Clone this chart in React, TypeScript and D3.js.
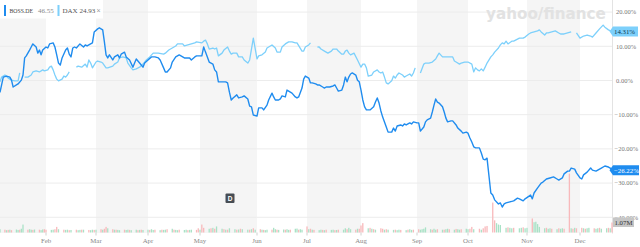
import React, { useEffect } from "react";
import * as d3 from "d3";

type Pt = [string, number | null];

// % change since start
const bossSeries: Pt[] = [
  ["2019-01-04", -3.5], ["2019-01-06", 1.0], ["2019-01-08", 1.3], ["2019-01-10", 1.0], ["2019-01-11", 0.1],
  ["2019-01-12", -1.9], ["2019-01-14", -1.3], ["2019-01-15", -1.0], ["2019-01-17", 0.1], ["2019-01-18", 1.6],
  ["2019-01-19", 6.6], ["2019-01-20", 7.2], ["2019-01-22", 8.9], ["2019-01-23", 9.8], ["2019-01-24", 10.7],
  ["2019-01-26", 9.8], ["2019-01-27", 8.0], ["2019-01-28", 8.9], ["2019-01-29", 7.5], ["2019-01-30", 8.9],
  ["2019-02-01", 9.8], ["2019-02-02", 9.5], ["2019-02-03", 10.7], ["2019-02-05", 11.0], ["2019-02-06", 9.8],
  ["2019-02-07", 7.5], ["2019-02-08", 5.1], ["2019-02-09", 4.5], ["2019-02-10", 6.6], ["2019-02-12", 8.9],
  ["2019-02-13", 9.5], ["2019-02-14", 7.7], ["2019-02-15", 6.9], ["2019-02-16", 9.5], ["2019-02-17", 9.8],
  ["2019-02-18", 9.5], ["2019-02-20", 10.7], ["2019-02-22", 9.8], ["2019-02-23", 10.4], ["2019-02-24", 10.1],
  ["2019-02-26", 10.7], ["2019-02-27", 11.0], ["2019-02-28", 14.2], ["2019-03-02", 15.1], ["2019-03-03", 15.4],
  ["2019-03-05", 14.8], ["2019-03-06", 11.3], ["2019-03-07", 7.5], ["2019-03-08", 6.6], ["2019-03-09", 7.5],
  ["2019-03-11", 6.0], ["2019-03-12", 6.9], ["2019-03-14", 7.5], ["2019-03-15", 6.6], ["2019-03-16", 7.7],
  ["2019-03-18", 8.3], ["2019-03-19", 6.9], ["2019-03-21", 6.0], ["2019-03-23", 3.9], ["2019-03-24", 5.1],
  ["2019-03-25", 6.3], ["2019-03-27", 5.1], ["2019-03-29", 3.9], ["2019-03-30", 5.1], ["2019-04-01", 6.0],
  ["2019-04-03", 6.9], ["2019-04-05", 6.9], ["2019-04-07", 6.6], ["2019-04-08", 6.0], ["2019-04-10", 3.7],
  ["2019-04-11", 2.5], ["2019-04-12", 2.5], ["2019-04-14", 3.7], ["2019-04-15", 5.4], ["2019-04-17", 6.9],
  ["2019-04-19", 7.5], ["2019-04-21", 6.9], ["2019-04-22", 6.6], ["2019-04-23", 6.6], ["2019-04-25", 6.6],
  ["2019-04-26", 6.0], ["2019-04-28", 6.9], ["2019-04-29", 7.2], ["2019-05-01", 7.2], ["2019-05-02", 7.2],
  ["2019-05-03", 9.8], ["2019-05-04", 8.3], ["2019-05-05", 6.9], ["2019-05-06", 5.4], ["2019-05-08", 4.8],
  ["2019-05-09", 3.1], ["2019-05-10", 2.5], ["2019-05-11", -0.4], ["2019-05-13", -0.4], ["2019-05-15", -0.4],
  ["2019-05-16", -0.7], ["2019-05-17", -3.4], ["2019-05-18", -5.7], ["2019-05-19", -5.1], ["2019-05-21", -4.2],
  ["2019-05-22", -5.1], ["2019-05-24", -4.8], ["2019-05-25", -4.5], ["2019-05-27", -5.4], ["2019-05-28", -7.5],
  ["2019-05-29", -7.7], ["2019-05-30", -10.1], ["2019-06-01", -10.4], ["2019-06-02", -8.0], ["2019-06-04", -8.0],
  ["2019-06-05", -8.6], ["2019-06-07", -7.2], ["2019-06-08", -5.7], ["2019-06-10", -3.7], ["2019-06-11", -4.8],
  ["2019-06-12", -5.7], ["2019-06-14", -5.7], ["2019-06-15", -5.4], ["2019-06-16", -4.5], ["2019-06-18", -4.8],
  ["2019-06-19", -2.8], ["2019-06-21", -3.4], ["2019-06-22", -3.7], ["2019-06-24", -4.8], ["2019-06-25", -5.1],
  ["2019-06-26", -4.8], ["2019-06-28", -2.2], ["2019-06-29", 0.4], ["2019-06-30", 1.3], ["2019-07-02", 0.7],
  ["2019-07-03", -0.7], ["2019-07-04", -0.7], ["2019-07-06", -1.0], ["2019-07-07", -1.3], ["2019-07-08", -1.3],
  ["2019-07-10", -1.9], ["2019-07-11", -2.2], ["2019-07-12", -1.9], ["2019-07-14", -1.9], ["2019-07-16", -1.6],
  ["2019-07-17", -1.3], ["2019-07-18", -2.2], ["2019-07-19", -3.1], ["2019-07-21", -2.8], ["2019-07-22", -1.3],
  ["2019-07-23", 1.0], ["2019-07-24", -0.4], ["2019-07-25", 1.0], ["2019-07-26", 1.9], ["2019-07-27", 2.2],
  ["2019-07-29", 1.6], ["2019-07-30", 0.1], ["2019-07-31", -0.4], ["2019-08-01", -2.8], ["2019-08-02", -5.7],
  ["2019-08-03", -7.7], ["2019-08-04", -8.6], ["2019-08-06", -8.6], ["2019-08-08", -7.7], ["2019-08-09", -6.3],
  ["2019-08-10", -5.1], ["2019-08-11", -6.6], ["2019-08-12", -8.9], ["2019-08-13", -10.7], ["2019-08-15", -13.6],
  ["2019-08-16", -15.1], ["2019-08-18", -15.1], ["2019-08-19", -13.9], ["2019-08-20", -14.8], ["2019-08-21", -13.3],
  ["2019-08-23", -13.0], ["2019-08-24", -13.3], ["2019-08-25", -12.7], ["2019-08-26", -13.0], ["2019-08-28", -12.4],
  ["2019-08-29", -12.7], ["2019-08-30", -12.1], ["2019-09-01", -12.4], ["2019-09-02", -12.4], ["2019-09-03", -14.8],
  ["2019-09-05", -13.6], ["2019-09-06", -12.1], ["2019-09-07", -11.5], ["2019-09-09", -11.0], ["2019-09-10", -9.2],
  ["2019-09-11", -7.2], ["2019-09-12", -5.4], ["2019-09-13", -6.3], ["2019-09-14", -6.6], ["2019-09-16", -7.7],
  ["2019-09-17", -9.2], ["2019-09-18", -11.0], ["2019-09-19", -12.1], ["2019-09-21", -11.8], ["2019-09-22", -11.8],
  ["2019-09-24", -13.0], ["2019-09-25", -13.9], ["2019-09-27", -14.8], ["2019-09-28", -15.4], ["2019-09-30", -15.1],
  ["2019-10-01", -15.4], ["2019-10-02", -16.8], ["2019-10-03", -18.0], ["2019-10-04", -19.4], ["2019-10-05", -19.7],
  ["2019-10-06", -19.7], ["2019-10-07", -19.7], ["2019-10-08", -21.2], ["2019-10-09", -23.0], ["2019-10-10", -23.2],
  ["2019-10-11", -22.7], ["2019-10-13", -32.9], ["2019-10-14", -33.5], ["2019-10-15", -34.9], ["2019-10-17", -36.1],
  ["2019-10-18", -35.8], ["2019-10-19", -37.0], ["2019-10-20", -36.1], ["2019-10-21", -35.8], ["2019-10-23", -35.5],
  ["2019-10-25", -35.2], ["2019-10-27", -34.4], ["2019-10-28", -34.6], ["2019-10-30", -35.2], ["2019-10-31", -34.6],
  ["2019-11-03", -33.5], ["2019-11-04", -34.6], ["2019-11-05", -32.9], ["2019-11-07", -31.4], ["2019-11-09", -30.0],
  ["2019-11-10", -29.7], ["2019-11-12", -28.8], ["2019-11-14", -28.5], ["2019-11-16", -28.2], ["2019-11-18", -28.8],
  ["2019-11-19", -29.1], ["2019-11-21", -28.5], ["2019-11-22", -27.3], ["2019-11-24", -26.5], ["2019-11-25", -26.5],
  ["2019-11-26", -25.6], ["2019-11-28", -25.9], ["2019-11-29", -27.0], ["2019-12-01", -28.5], ["2019-12-02", -28.8],
  ["2019-12-03", -27.6], ["2019-12-05", -26.8], ["2019-12-07", -25.6], ["2019-12-08", -26.2], ["2019-12-10", -26.5],
  ["2019-12-11", -26.2], ["2019-12-13", -25.6], ["2019-12-15", -25.0], ["2019-12-17", -25.3], ["2019-12-18", -25.6],
  ["2019-12-19", -26.22],
];

const daxSeries: Pt[] = [
  ["2019-01-04", -0.4], ["2019-01-05", 1.0], ["2019-01-07", 1.6], ["2019-01-09", 0.7], ["2019-01-11", 0.1],
  ["2019-01-13", -0.1], ["2019-01-15", -0.1], ["2019-01-16", 2.2], ["2019-01-17", null], ["2019-01-19", 1.0],
  ["2019-01-21", 1.0], ["2019-01-23", 1.6], ["2019-01-24", 2.5], ["2019-01-26", 2.8], ["2019-01-28", 2.5],
  ["2019-01-30", 3.1], ["2019-01-31", 2.8], ["2019-02-02", 3.1], ["2019-02-03", 3.9], ["2019-02-04", 4.2],
  ["2019-02-05", 3.1], ["2019-02-06", 1.6], ["2019-02-07", 0.4], ["2019-02-08", -0.1], ["2019-02-10", 0.4],
  ["2019-02-11", 1.3], ["2019-02-12", 1.0], ["2019-02-13", 1.6], ["2019-02-14", 2.5], ["2019-02-16", null],
  ["2019-02-18", 3.9], ["2019-02-19", 4.2], ["2019-02-21", 3.9], ["2019-02-23", 4.8], ["2019-02-24", 3.9],
  ["2019-02-25", 6.0], ["2019-02-26", 5.1], ["2019-02-27", 3.7], ["2019-03-01", 5.4], ["2019-03-02", 5.7],
  ["2019-03-04", 5.4], ["2019-03-05", 5.1], ["2019-03-07", 3.7], ["2019-03-08", 3.7], ["2019-03-11", 4.2],
  ["2019-03-12", 4.8], ["2019-03-14", 5.4], ["2019-03-15", 6.6], ["2019-03-17", 6.9], ["2019-03-19", 6.6],
  ["2019-03-20", 5.1], ["2019-03-22", 3.7], ["2019-03-23", 3.1], ["2019-03-25", 3.4], ["2019-03-27", 3.9],
  ["2019-03-29", 4.8], ["2019-03-31", 6.0], ["2019-04-02", 6.9], ["2019-04-04", 8.0], ["2019-04-06", 8.0],
  ["2019-04-07", 8.0], ["2019-04-10", 7.7], ["2019-04-11", 8.0], ["2019-04-13", 8.9], ["2019-04-15", 9.5],
  ["2019-04-17", 10.1], ["2019-04-18", 10.7], ["2019-04-21", 10.7], ["2019-04-22", 10.1], ["2019-04-24", 10.4],
  ["2019-04-26", 10.7], ["2019-04-28", 11.0], ["2019-04-29", 11.3], ["2019-05-02", 11.0], ["2019-05-03", 11.5],
  ["2019-05-04", 11.8], ["2019-05-05", 10.7], ["2019-05-06", 9.2], ["2019-05-08", 9.5], ["2019-05-09", 9.2],
  ["2019-05-10", 9.5], ["2019-05-11", 7.2], ["2019-05-13", 8.0], ["2019-05-14", 8.9], ["2019-05-16", 9.8],
  ["2019-05-17", 8.6], ["2019-05-18", 7.7], ["2019-05-19", 8.0], ["2019-05-21", 8.0], ["2019-05-22", 6.9],
  ["2019-05-24", 6.9], ["2019-05-25", 6.0], ["2019-05-27", 5.1], ["2019-05-28", 6.0], ["2019-05-30", 12.4],
  ["2019-06-01", 6.3], ["2019-06-02", 7.2], ["2019-06-04", 7.5], ["2019-06-06", 8.3], ["2019-06-07", 9.5],
  ["2019-06-10", 10.4], ["2019-06-12", 9.5], ["2019-06-13", 8.3], ["2019-06-15", 8.3], ["2019-06-16", 9.8],
  ["2019-06-18", 10.7], ["2019-06-20", 11.3], ["2019-06-22", 11.3], ["2019-06-24", 11.0], ["2019-06-25", 11.0],
  ["2019-06-28", 8.6], ["2019-06-29", 8.6], ["2019-06-30", 9.8], ["2019-07-02", 10.4], ["2019-07-03", 11.0],
  ["2019-07-05", null], ["2019-07-07", 9.8], ["2019-07-08", 9.8], ["2019-07-09", 9.2], ["2019-07-11", 8.6],
  ["2019-07-13", 8.0], ["2019-07-15", 8.6], ["2019-07-16", 9.2], ["2019-07-18", 9.2], ["2019-07-19", 8.6],
  ["2019-07-21", 7.7], ["2019-07-22", 7.7], ["2019-07-23", 8.6], ["2019-07-24", 8.9], ["2019-07-25", 8.0],
  ["2019-07-26", 7.5], ["2019-07-28", 8.0], ["2019-07-30", 6.0], ["2019-08-01", 3.9], ["2019-08-02", 4.8],
  ["2019-08-03", 4.8], ["2019-08-04", 3.7], ["2019-08-05", 1.3], ["2019-08-07", 1.6], ["2019-08-08", 2.5],
  ["2019-08-10", 3.1], ["2019-08-11", 2.5], ["2019-08-12", 2.2], ["2019-08-13", 2.5], ["2019-08-14", 1.0],
  ["2019-08-15", -0.7], ["2019-08-16", -1.0], ["2019-08-18", -0.1], ["2019-08-19", 1.3], ["2019-08-20", 0.7],
  ["2019-08-21", 1.6], ["2019-08-22", 2.2], ["2019-08-24", 1.6], ["2019-08-25", 1.0], ["2019-08-26", 1.3],
  ["2019-08-28", 1.9], ["2019-08-29", 1.3], ["2019-08-30", 2.2], ["2019-08-31", 3.7], ["2019-09-02", null],
  ["2019-09-03", 2.2], ["2019-09-05", 4.8], ["2019-09-06", 5.1], ["2019-09-08", 5.1], ["2019-09-10", 5.4],
  ["2019-09-12", 6.3], ["2019-09-13", 7.2], ["2019-09-14", 8.0], ["2019-09-16", 6.9], ["2019-09-18", 6.9],
  ["2019-09-20", 6.9], ["2019-09-22", 6.9], ["2019-09-23", 5.7], ["2019-09-24", 5.4], ["2019-09-26", 4.8],
  ["2019-09-27", 5.1], ["2019-09-29", 5.4], ["2019-09-30", 5.4], ["2019-10-01", 5.4], ["2019-10-03", 4.8],
  ["2019-10-04", 2.5], ["2019-10-05", 3.7], ["2019-10-06", 3.1], ["2019-10-07", 2.8], ["2019-10-08", 3.4],
  ["2019-10-09", 2.8], ["2019-10-10", 3.9], ["2019-10-11", 5.1], ["2019-10-13", 6.9], ["2019-10-14", 7.5],
  ["2019-10-15", 8.3], ["2019-10-17", 9.5], ["2019-10-18", 10.4], ["2019-10-19", 11.0], ["2019-10-20", 10.7],
  ["2019-10-21", 11.5], ["2019-10-22", 10.7], ["2019-10-24", 11.5], ["2019-10-25", 11.5], ["2019-10-27", 12.1],
  ["2019-10-28", 12.4], ["2019-10-30", 12.4], ["2019-10-31", 12.7], ["2019-11-02", 13.6], ["2019-11-03", 13.9],
  ["2019-11-05", 14.2], ["2019-11-07", 14.5], ["2019-11-08", 14.8], ["2019-11-09", 14.2], ["2019-11-11", 13.3],
  ["2019-11-12", 13.9], ["2019-11-13", 13.9], ["2019-11-15", 14.2], ["2019-11-17", 14.5], ["2019-11-19", 13.9],
  ["2019-11-20", 13.6], ["2019-11-22", 13.6], ["2019-11-24", 13.9], ["2019-11-26", 14.2], ["2019-11-27", null],
  ["2019-11-29", 13.9], ["2019-12-01", 12.4], ["2019-12-03", 13.0], ["2019-12-05", 13.3], ["2019-12-07", 13.0],
  ["2019-12-08", 12.7], ["2019-12-10", 13.9], ["2019-12-12", 15.1], ["2019-12-14", 16.2], ["2019-12-15", 15.6],
  ["2019-12-17", 14.8], ["2019-12-19", 14.31],
];

// daily volume in millions, one per weekday; negative = down day (red)
const volumeM: number[] = [
  0.35, -0.3, 0.25, -0.28, 0.3, -0.25, 0.32, 0.27, -0.3, 0.4, 0.85, -0.3, 0.35, 0.3, -0.28, 0.32, -0.3, 0.25, 0.33, -0.35,
  -0.3, 0.28, 0.3, -0.35, -0.6, 0.35, -0.3, 0.28, 0.3, -0.25, 0.27, -0.3, 0.25, 0.28, -0.3, 0.3, -0.27, 0.25, 0.3, -0.28,
  0.3, -0.35, 0.3, -0.4, -0.6, 0.45, -0.35, 0.3, -0.3, 0.28, 0.25, -0.3, 0.27, 0.3, -0.28, 0.25, 0.3, -0.25, 0.28, -0.3, 0.27,
  0.3, -0.28, 0.35, 0.27, -0.3, 0.25, -0.3, 0.28, 0.3, -0.35, 0.4, -0.3, 0.28, 0.25, -0.3, 0.27, 0.3, -0.25, 0.28, 0.3, -0.28, -0.45,
  0.3, -0.85, -0.5, 0.4, -0.45, 0.5, -0.4, 0.65, 0.4, -0.35, 0.3, -0.3, 0.45, 0.35, -0.3, 0.32, -0.4, 0.35, 0.3, -0.3, 0.35, -0.45, 0.3,
  -0.35, 0.3, -0.28, 0.25, 0.3, -0.3, 0.5, 0.35, -0.3, 0.28, 0.32, -0.3, 0.35, 0.28, -0.3, 0.4, 0.42, -0.3, 0.35, 0.3,
  -0.65, 0.35, -0.4, 0.3, -0.28, 0.25, 0.3, -0.28, 0.25, -0.3, 0.28, 0.3, -0.25, 0.27, -0.3, 0.3, 0.45, -0.35, 0.5, 0.35, -0.3, 0.4, -0.4,
  -0.75, -1.0, 0.45, -0.5, 0.4, -0.35, 0.3, -0.45, -0.4, 0.3, -0.35, 0.3, 0.28, -0.3, 0.25, 0.3, -0.28, 0.25, -0.3, 0.35, 0.28, -0.3,
  -0.35, 0.3, 0.35, 0.4, 0.55, 0.35, -0.3, 0.4, 0.3, -0.35, 0.3, -0.3, 0.35, 0.4, -0.35, 0.3, -0.38, 0.35, 0.3, -0.35, 0.4,
  0.35, -0.4, -0.6, 0.35, -0.4, 0.3, -0.45, -0.65, -0.7, -3.2, -1.3, 1.0, 0.85, 0.8, 0.5, -0.55, 0.5, 0.45, -0.5, 0.45, 0.5, -0.55, 0.45,
  0.5, -1.5, 1.1, 1.15, 0.9, 0.6, 0.45, -0.5, 0.4, 0.45, -0.4, 0.35, -0.45, 0.4, 0.45, -0.4, -6.3, 0.45, -0.4, 0.5, -0.45,
  -0.5, 0.45, -0.4, 0.45, 0.5, -0.45, 0.4, 0.45, -0.5, 0.4, 0.45, -0.5, 0.45, -1.07,
];

const startDate = "2019-01-04";
const endDate = "2019-12-19";
const monthStarts = [
  "2019-02-01", "2019-03-01", "2019-04-01", "2019-05-01", "2019-06-01", "2019-07-01",
  "2019-08-01", "2019-09-01", "2019-10-01", "2019-11-01", "2019-12-01",
];
const yTickValues = [20, 10, 0, -10, -20, -30, -40];
const bossName = "BOSS.DE";
const bossPrice = "46.55";
const daxName = "DAX";
const daxPrice = "24.93";
const lastVolumeLabel = "1.07M";

const BOSS_COLOR = "#1f8cef";
const DAX_COLOR = "#7dd0fb";

export default function App() {
  useEffect(() => {
    document.body.style.margin = "0";
  }, []);

  const W = 640;
  const H = 247;
  const plotRight = 612;
  const volBase = 232.5;

  const parse = d3.timeParse("%Y-%m-%d");
  const s = parse(startDate)!;
  const e = parse(endDate)!;
  const months = monthStarts.map((m) => parse(m)!);
  const anchors = [s, ...months, e];

  const x = d3
    .scaleTime()
    .domain(anchors)
    .range([0, 46, 96, 148, 200, 257, 307, 361, 417, 468, 527, 580, plotRight]);
  const y = d3.scaleLinear().domain([-40, 20]).range([217.3, 12.1]);
  const yVol = d3.scaleLinear().domain([0, 6.5]).range([volBase, 171.7]);

  const line = d3
    .line<Pt>()
    .defined((d) => d[1] != null)
    .x((d) => x(parse(d[0])!))
    .y((d) => y(d[1] as number));

  const weekdays = d3.timeDay.range(s, d3.timeDay.offset(e, 1)).filter((d) => d.getDay() % 6 !== 0);
  const fmtMonth = d3.timeFormat("%b");
  const fmtPct = (v: number) => d3.format(".2f")(v) + "%";

  const bossLast = bossSeries[bossSeries.length - 1][1] as number;
  const daxLast = daxSeries[daxSeries.length - 1][1] as number;

  const tag = (yy: number, w: number) =>
    `M${plotRight - 2.5},${yy} L${plotRight + 1},${yy - 5} L${plotRight + w},${yy - 5} L${plotRight + w},${yy + 5} L${plotRight + 1},${yy + 5} Z`;

  const serif = "'Liberation Serif', 'DejaVu Serif', serif";
  const sans = "'Liberation Sans', Arial, sans-serif";

  return (
    <svg width={W} height={H} style={{ position: "absolute", left: 0, top: 0, display: "block" }}>
      <rect x={0} y={0} width={W} height={H} fill="#ffffff" />
      {/* month bands */}
      {anchors.slice(0, -1).map((d, i) => (
        <rect
          key={"b" + i}
          x={x(d)}
          y={0}
          width={x(anchors[i + 1]) - x(d)}
          height={volBase + 0.5}
          fill={i % 2 === 0 ? "#f5f5f5" : "#ffffff"}
        />
      ))}
      {/* horizontal grid */}
      {yTickValues.map((v) => (
        <line key={"g" + v} x1={0} x2={plotRight} y1={y(v)} y2={y(v)} stroke="#ececec" strokeWidth={1} />
      ))}
      {/* right axis line */}
      <line x1={plotRight + 0.5} x2={plotRight + 0.5} y1={0} y2={volBase + 1} stroke="#e3e3e3" strokeWidth={1} />

      {/* watermark */}
      <text
        x={486}
        y={19}
        fontFamily="'DejaVu Sans', sans-serif"
        fontWeight="bold"
        fontSize={15.2}
        fill="#e2e2e2"
      >
        yahoo/finance
      </text>

      {/* volume */}
      {weekdays.slice(0, volumeM.length).map((d, i) => {
        const v = volumeM[i];
        const xx = x(d);
        const top = yVol(Math.abs(v));
        return (
          <rect
            key={"v" + i}
            x={xx - 0.65}
            y={top}
            width={1.3}
            height={volBase - top}
            fill={v < 0 ? "#f8b9bb" : "#a9e2c6"}
          />
        );
      })}

      {/* lines */}
      <path d={line(daxSeries) || ""} fill="none" stroke={DAX_COLOR} strokeWidth={1.3} strokeLinejoin="round" />
      <path d={line(bossSeries) || ""} fill="none" stroke={BOSS_COLOR} strokeWidth={1.4} strokeLinejoin="round" />

      {/* month axis */}
      {months.map((m, i) => (
        <g key={"m" + i}>
          <line x1={x(m)} x2={x(m)} y1={volBase} y2={volBase + 3} stroke="#d0d0d0" strokeWidth={1} />
          <text x={x(m)} y={243} textAnchor="middle" fontFamily={serif} fontSize={6.8} fill="#888">
            {fmtMonth(m)}
          </text>
        </g>
      ))}

      {/* y labels */}
      {yTickValues.map((v) => (
        <text
          key={"t" + v}
          x={v < 0 ? 614.5 : 616}
          y={y(v) + 2.3}
          fontFamily={serif}
          fontSize={6.5}
          fill="#777"
        >
          {fmtPct(v)}
        </text>
      ))}

      {/* last value tags */}
      <path d={tag(y(daxLast), 26)} fill={DAX_COLOR} />
      <text x={614} y={y(daxLast) + 2.4} fontFamily={serif} fontSize={6.8} fill="#0b3350">
        {fmtPct(daxLast)}
      </text>
      <path d={tag(y(bossLast), 27)} fill={BOSS_COLOR} />
      <text x={614} y={y(bossLast) + 2.4} fontFamily={serif} fontSize={6.8} fill="#ffffff">
        {fmtPct(bossLast)}
      </text>
      <rect x={613} y={217.5} width={21} height={9.5} fill="#c6c6c6" />
      <text x={614.5} y={224.8} fontFamily={serif} fontSize={6.8} fill="#333">
        {lastVolumeLabel}
      </text>

      {/* dividend badge */}
      <rect x={225.5} y={193.5} width={9} height={9.5} rx={1} fill="#474d54" />
      <text x={230} y={200.8} textAnchor="middle" fontFamily={sans} fontWeight="bold" fontSize={6.5} fill="#fff">
        D
      </text>

      {/* legend */}
      <rect x={0} y={0} width={103} height={18.5} fill="#ffffff" />
      <rect x={4} y={5} width={2} height={11} fill={BOSS_COLOR} />
      <text x={9.5} y={12.8} fontFamily={serif} fontSize={7} fill="#444" textLength={23.5} lengthAdjust="spacingAndGlyphs">
        {bossName}
      </text>
      <text x={38} y={12.8} fontFamily={serif} fontSize={7} fill="#888">
        {bossPrice}
      </text>
      <rect x={57.5} y={5} width={2} height={11} fill={DAX_COLOR} />
      <text x={62.5} y={12.8} fontFamily={serif} fontSize={7} fill="#555">
        {daxName} {daxPrice}
      </text>
      <text x={96.5} y={12.8} fontFamily={sans} fontSize={7} fill="#999">
        ×
      </text>
    </svg>
  );
}
